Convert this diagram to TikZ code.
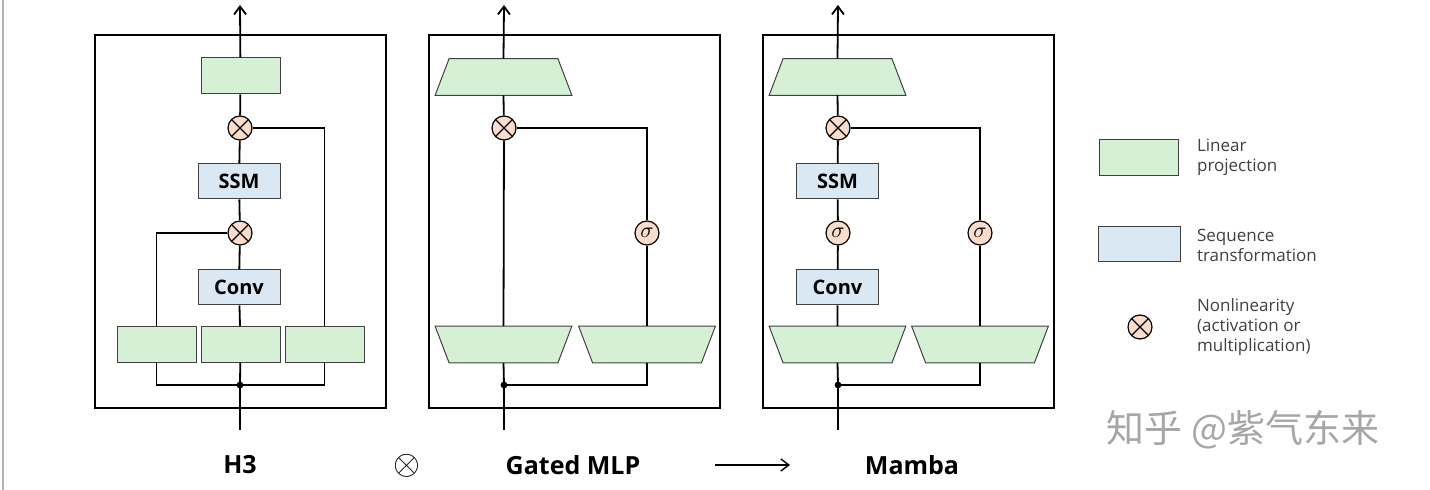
\documentclass[tikz,border=0pt]{standalone}
\usepackage{fontspec}
\setmainfont{Open Sans}
\newfontfamily\cjk{Noto Sans CJK SC}
\usetikzlibrary{arrows.meta}
\definecolor{lgreen}{HTML}{D6F0D6}
\definecolor{lblue}{HTML}{DAE8F4}
\definecolor{lpeach}{HTML}{F9DCCB}
\begin{document}
\begin{tikzpicture}[x=0.5pt,y=-0.5pt,
  frame/.style={draw,line width=1.4pt},
  lin/.style={draw=black!75,fill=lgreen,line width=0.5pt,minimum width=39.5pt,minimum height=18pt,inner sep=0pt},
  seq/.style={draw=black!75,fill=lblue,line width=0.5pt,minimum width=41pt,minimum height=17.5pt,inner sep=0pt,font=\fontsize{10}{12}\selectfont\bfseries},
  trap/.style={minimum width=68pt,minimum height=18pt,inner sep=0pt,
    append after command={\pgfextra{\filldraw[draw=black!75,fill=lgreen,line width=0.5pt]
      ([xshift=7pt]\tikzlastnode.north west) -- ([xshift=-7pt]\tikzlastnode.north east) -- (\tikzlastnode.south east) -- (\tikzlastnode.south west) -- cycle;}}},
  itrap/.style={minimum width=68pt,minimum height=18pt,inner sep=0pt,
    append after command={\pgfextra{\filldraw[draw=black!75,fill=lgreen,line width=0.5pt]
      (\tikzlastnode.north west) -- (\tikzlastnode.north east) -- ([xshift=-7pt]\tikzlastnode.south east) -- ([xshift=7pt]\tikzlastnode.south west) -- cycle;}}},
  ot/.style={circle,draw,fill=lpeach,line width=0.6pt,minimum size=12pt,inner sep=0pt,
    path picture={\draw[line width=0.6pt] ([shift={(45:6pt)}]path picture bounding box.center)--([shift={(225:6pt)}]path picture bounding box.center);
                  \draw[line width=0.6pt] ([shift={(135:6pt)}]path picture bounding box.center)--([shift={(-45:6pt)}]path picture bounding box.center);}},
  sg/.style={circle,draw,fill=lpeach,line width=0.6pt,minimum size=12pt,inner sep=0pt,font=\fontsize{11}{12}\selectfont},
  con/.style={line width=0.9pt},
  arr/.style={con,-{Straight Barb[length=4pt,width=6pt]}},
  dot/.style={circle,fill,inner sep=1.2pt},
  lab/.style={font=\fontsize{12.5}{14}\selectfont\bfseries},
  leg/.style={font=\fontsize{8.5}{10}\selectfont,align=left,anchor=west,text=black!75}]
\useasboundingbox (0,0) rectangle (1430,490);
\draw[black!30,line width=0.8pt] (3,0) -- (3,490);
% ---------- H3 ----------
\node[frame,minimum width=145.5pt,minimum height=186.5pt] (b1) at (240.5,221.5) {};
\coordinate (i1) at (240,430);
\coordinate (o1) at (240,5);
\node[lin] (h_top) at (240.5,76) {};
\node[ot] (h_m1) at (240,128) {};
\node[seq] (h_ssm) at (239,181.5) {SSM};
\node[ot] (h_m2) at (240,233) {};
\node[seq] (h_conv) at (239,287.5) {Conv};
\node[lin] (h_l) at (156.5,344.5) {};
\node[lin] (h_c) at (240.5,344.5) {};
\node[lin] (h_r) at (324.5,344.5) {};
\node[dot] (h_d) at (240,385) {};
\draw[con] (i1) -- (h_d.center) -- (h_c) (h_c) -- (h_conv) (h_conv) -- (h_m2) (h_m2) -- (h_ssm) (h_ssm) -- (h_m1) (h_m1) -- (h_top);
\draw[arr] (h_top) -- (o1);
\draw[con] (h_l.south) |- (h_d.center) -| (h_r.south);
\draw[con] (h_l.north) |- (h_m2.west);
\draw[con] (h_r.north) |- (h_m1.east);
% ---------- Gated MLP ----------
\node[frame,minimum width=145.5pt,minimum height=186.5pt] (b2) at (574.5,221.5) {};
\coordinate (i2) at (504,430);
\coordinate (o2) at (504,5);
\node[trap] (g_top) at (503.5,77) {};
\node[ot] (g_m) at (504,128) {};
\node[sg] (g_s) at (647,233) {$\sigma$};
\node[itrap] (g_l) at (503.5,344.5) {};
\node[itrap] (g_r) at (647,344.5) {};
\node[dot] (g_d) at (504,385) {};
\draw[con] (i2) -- (g_d.center) -- (g_l.south) (g_l.north) -- (g_m) (g_m) -- (g_top.south);
\draw[arr] (g_top.north) -- (o2);
\draw[con] (g_d.center) -| (g_r.south) (g_r.north) -- (g_s) (g_s) |- (g_m.east);
% ---------- Mamba ----------
\node[frame,minimum width=145.5pt,minimum height=186.5pt] (b3) at (908.5,221.5) {};
\coordinate (i3) at (838,430);
\coordinate (o3) at (838,5);
\node[trap] (m_top) at (837.5,77) {};
\node[ot] (m_m) at (838,128) {};
\node[seq] (m_ssm) at (837.5,181.5) {SSM};
\node[sg] (m_s1) at (838,233) {$\sigma$};
\node[seq] (m_conv) at (837.5,287.5) {Conv};
\node[itrap] (m_l) at (837.5,344.5) {};
\node[itrap] (m_r) at (980,344.5) {};
\node[sg] (m_s2) at (980,233) {$\sigma$};
\node[dot] (m_d) at (838,385) {};
\draw[con] (i3) -- (m_d.center) -- (m_l.south) (m_l.north) -- (m_conv) (m_conv) -- (m_s1) (m_s1) -- (m_ssm) (m_ssm) -- (m_m) (m_m) -- (m_top.south);
\draw[arr] (m_top.north) -- (o3);
\draw[con] (m_d.center) -| (m_r.south) (m_r.north) -- (m_s2) (m_s2) |- (m_m.east);
% ---------- labels ----------
\node[lab] (t1) at (240,465) {H3};
\node[font=\fontsize{17}{18}\selectfont] (t2) at (407,466) {$\otimes$};
\node[lab] (t3) at (573,465) {Gated MLP};
\coordinate (a1) at (715,465);
\coordinate (a2) at (790,465);
\draw[line width=0.7pt,-{Straight Barb[length=4pt,width=6pt]}] (a1) -- (a2);
\node[lab] (t4) at (912,465) {Mamba};
% ---------- legend ----------
\node[lin] (lg1) at (1139,158) {};
\node[leg] (lt1) at (1190,157) {Linear\\projection};
\node[seq] (lg2) at (1139,244) {};
\node[leg] (lt2) at (1190,245) {Sequence\\transformation};
\node[ot] (lg3) at (1140,327) {};
\node[leg] (lt3) at (1190,327) {Nonlinearity\\(activation or\\multiplication)};
\node[font=\cjk\fontsize{19}{20}\selectfont,text=black!35] (wm) at (1243,430) {知乎 @紫气东来};
\end{tikzpicture}
\end{document}
